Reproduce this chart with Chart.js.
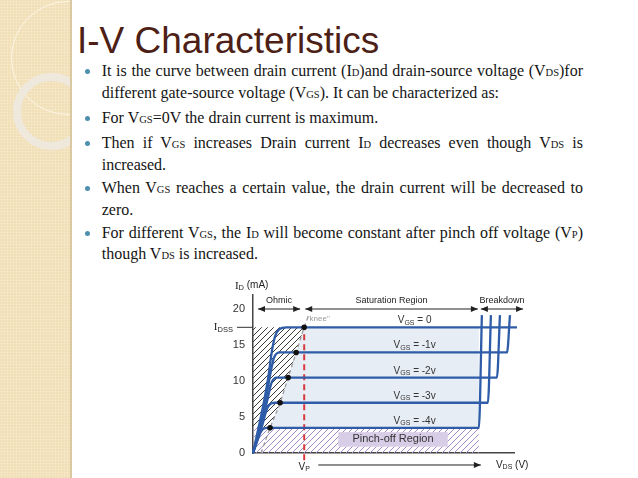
<!DOCTYPE html>
<html lang="en">
<head>
<meta charset="UTF-8">
<title>I-V Characteristics</title>
<script src="https://cdn.jsdelivr.net/npm/chart.js"></script>
<style>
  body { margin: 0; width: 638px; height: 478px; background: #fff; position: relative; overflow: hidden; font-family: "Liberation Serif", serif; }
  .band { position: absolute; left: 0; top: 0; width: 70px; height: 478px; background-color: #f1dfb7;
          background-image: radial-gradient(rgba(255,255,255,0.35) 0.8px, transparent 1.1px); background-size: 3px 3px;
          overflow: hidden; border-right: 2px solid #d9c8a2; }
  .ring1 { position: absolute; left: 11px; top: 1px; width: 114px; height: 114px; box-sizing: border-box; border: 1.5px solid #fcf6e8; border-radius: 50%; }
  .ring2 { position: absolute; left: 13px; top: 73px; width: 77px; height: 77px; box-sizing: border-box; border: 8px solid rgba(238,232,221,0.95); border-radius: 50%; }
  .title { position: absolute; left: 77px; top: 21.7px; font: 37px/37px "Liberation Sans", Arial, sans-serif; color: #4d1f16; white-space: nowrap; }
  ul { position: absolute; left: 101.7px; top: 61.3px; width: 481.3px; margin: 0; padding: 0; list-style: none; }
  li { position: relative; font-size: 16px; line-height: 19.5px; color: #151515; text-align: justify; }
  li + li { margin-top: 3.8px; }
  li::before { content: ''; position: absolute; left: -17px; top: 7.9px; width: 5px; height: 5px; border-radius: 50%; background: #4f8fae; }
  .s { font-size: 10.5px; }
  #chart { position: absolute; left: 205px; top: 270px; }
</style>
</head>
<body>
<div class="band"><div class="ring1"></div><div class="ring2"></div></div>
<div class="title">I-V Characteristics</div>
<ul>
  <li>It is the curve between drain current (I<span class="s">D</span>)and drain-source voltage (V<span class="s">DS</span>)for different gate-source voltage (V<span class="s">GS</span>). It can be characterized as:</li>
  <li>For V<span class="s">GS</span>=0V the drain current is maximum.</li>
  <li>Then if V<span class="s">GS</span> increases Drain current I<span class="s">D</span> decreases even though V<span class="s">DS</span> is increased.</li>
  <li>When V<span class="s">GS</span> reaches a certain value, the drain current will be decreased to zero.</li>
  <li>For different V<span class="s">GS</span>, the I<span class="s">D</span> will become constant after pinch off voltage (V<span class="s">P</span>) though V<span class="s">DS</span> is increased.</li>
</ul>
<canvas id="chart" width="340" height="208"></canvas>

<script>
// values (VDS in arbitrary units, ID in mA)
const yTicks = [0, 5, 10, 15, 20];
const gateLabels = ['0', '-1v', '-2v', '-3v', '-4v'];
const satCurrent = [17.5, 14, 10.5, 7, 3.5];
const kneeVds = [5.1, 4.3, 3.5, 2.7, 1.7];
const breakdownVds = [26.3, 25.3, 24.3, 23.4, 22.5];
const breakdownTopVds = [26.6, 25.6, 24.6, 23.7, 22.8];
const breakdownTopId = 19.2;
const pinchOffVds = 5.1;
const idss = 17.5;

// rising (ohmic) part of each curve
const ohmicVgs0 = [[0, 0], [0.55, 3.5], [1.1, 7.2], [1.55, 10.8], [1.86, 14], [2.19, 16.2], [2.6, 17.2], [3.35, 17.5]];
const ohmicVgs1 = [[0, 0], [0.65, 3.5], [1.25, 7.2], [1.7, 10.8], [2.1, 13.3], [2.7, 14]];
const ohmicVgs2 = [[0, 0], [0.75, 3.5], [1.4, 7.2], [1.85, 9.8], [2.36, 10.5]];
const ohmicVgs3 = [[0, 0], [0.85, 3.5], [1.4, 6.2], [1.8, 6.9], [2.2, 7]];
const ohmicVgs4 = [[0, 0], [0.6, 2.4], [0.9, 3.2], [1.3, 3.5]];
const kneeLocusStart = [0.8, 0];
const kneeLocusEnd = [5.5, 19];

const regionNames = ['Ohmic', 'Saturation Region', 'Breakdown'];
const regionFrom = [0.5, 5.2, 22.7];
const regionTo = [4.7, 22.4, 26.9];

const toXY = pts => pts.map(([x, y]) => ({ x, y }));

function hatch(color, size) {
    const c = document.createElement('canvas');
    c.width = size; c.height = size;
    const g = c.getContext('2d');
    g.strokeStyle = color;
    g.lineWidth = 1;
    g.beginPath();
    g.moveTo(-1, 1); g.lineTo(1, -1);
    g.moveTo(0, size); g.lineTo(size, 0);
    g.moveTo(size - 1, size + 1); g.lineTo(size + 1, size - 1);
    g.stroke();
    return g.createPattern(c, 'repeat');
}

const ohmicParts = [ohmicVgs0, ohmicVgs1, ohmicVgs2, ohmicVgs3, ohmicVgs4];
const curves = ohmicParts.map((part, i) =>
    toXY([...part, [breakdownVds[i], satCurrent[i]], [breakdownTopVds[i], breakdownTopId]]));

const kneePoints = kneeVds.map((v, i) => ({ x: v, y: satCurrent[i] })).sort((a, b) => a.x - b.x);
const lowSat = satCurrent[satCurrent.length - 1];
const satEnd = breakdownVds[breakdownVds.length - 1];

const blue = '#2e5ca8';
const region = { showLine: true, borderWidth: 0, pointRadius: 0, order: 3 };

const datasets = [
    // 0 pinch-off region
    { ...region, data: [{ x: 0, y: lowSat }, { x: satEnd, y: lowSat }], fill: 'origin', backgroundColor: hatch('#a58ccb', 6) },
    // 1 lower edge of ohmic hatch (knee locus)
    { ...region, data: [{ x: 0, y: lowSat }, ...kneePoints], fill: false, borderColor: 'transparent' },
    // 2 ohmic hatch
    { ...region, data: [{ x: 0, y: idss }, { x: kneeVds[0], y: idss }], fill: 1, backgroundColor: hatch('#3a3a3a', 6) },
    // 3 saturation region tint
    { ...region, data: [...kneePoints, { x: satEnd, y: idss }], fill: { value: lowSat }, backgroundColor: '#e7edf5' },
    // 4 knee locus
    { data: toXY([kneeLocusStart, ...kneePoints.map(p => [p.x, p.y]), kneeLocusEnd]), borderColor: '#9a9a9a', borderWidth: 1.3,
      borderDash: [4, 3], pointRadius: 0, cubicInterpolationMode: 'monotone', order: 2 },
    // 5 pinch-off voltage
    { data: [{ x: pinchOffVds, y: -1 }, { x: pinchOffVds, y: idss }], borderColor: '#d63a3f', borderWidth: 2,
      borderDash: [6, 4], pointRadius: 0, clip: false, order: 2 },
    // 6 IDSS tick
    { data: [{ x: -1.6, y: idss }, { x: 0, y: idss }], borderColor: '#333', borderWidth: 1, pointRadius: 0, clip: false, order: 2 },
    ...curves.map((c, i) => ({
        label: 'VGS = ' + gateLabels[i], data: c, borderColor: blue, borderWidth: 2.3, pointRadius: 0,
        cubicInterpolationMode: 'monotone', clip: false, order: 1
    })),
    { data: kneePoints, showLine: false, pointRadius: 2.8, pointBackgroundColor: '#111', pointBorderWidth: 0, order: 0 }
];

function richText(ctx, x, y, parts, align) {
    // parts: [text, size, subscript, family]
    const fontOf = p => p[1] + 'px ' + (p[3] || '"Liberation Sans", Arial, sans-serif');
    let w = 0;
    parts.forEach(p => { ctx.font = fontOf(p); w += ctx.measureText(p[0]).width; });
    let cx = align === 'center' ? x - w / 2 : align === 'right' ? x - w : x;
    ctx.textAlign = 'left';
    ctx.textBaseline = 'middle';
    parts.forEach(p => {
        ctx.font = fontOf(p);
        ctx.fillText(p[0], cx, y + (p[2] ? p[1] * 0.35 : 0));
        cx += ctx.measureText(p[0]).width;
    });
}

function arrow(ctx, x1, x2, y, headStart, headEnd) {
    ctx.beginPath();
    ctx.moveTo(x1, y); ctx.lineTo(x2, y);
    ctx.stroke();
    const head = (x, dir) => {
        ctx.beginPath();
        ctx.moveTo(x, y);
        ctx.lineTo(x - dir * 7, y - 3);
        ctx.lineTo(x - dir * 7, y + 3);
        ctx.closePath();
        ctx.fill();
    };
    if (headStart) head(x1, -1);
    if (headEnd) head(x2, 1);
}

const annotations = {
    id: 'annotations',
    afterDatasetsDraw(chart) {
        const { ctx } = chart;
        const px = v => chart.scales.x.getPixelForValue(v);
        const py = v => chart.scales.y.getPixelForValue(v);
        const serif = '"Liberation Serif", serif';
        ctx.save();
        ctx.fillStyle = '#222';
        ctx.strokeStyle = '#222';
        ctx.lineWidth = 1;

        // region arrows on top
        regionNames.forEach((name, i) => {
            arrow(ctx, px(regionFrom[i]), px(regionTo[i]), py(20.05), true, true);
            richText(ctx, px((regionFrom[i] + regionTo[i]) / 2), py(21.2), [[name, 9]], 'center');
        });

        // gate voltage labels
        ctx.fillStyle = '#333';
        gateLabels.forEach((g, i) => {
            richText(ctx, px(16.1), py(satCurrent[i] + 0.95), [['V', 10], ['GS', 7, true], [' = ' + g, 10]], 'center');
        });

        // pinch-off label box
        ctx.fillStyle = '#d8cde6';
        ctx.fillRect(px(8.5), py(2.9), px(19.4) - px(8.5), py(0.88) - py(2.9));
        ctx.fillStyle = '#333';
        richText(ctx, px(13.95), py(1.9), [['Pinch-off Region', 11]], 'center');

        // knee label
        ctx.fillStyle = '#999';
        richText(ctx, px(5.35), py(18.75), [['"knee"', 8]], 'left');

        // axis labels
        ctx.fillStyle = '#222';
        richText(ctx, px(-1.8), py(23.3), [['I', 11, false, serif], ['D', 7.5, true], [' (mA)', 10]], 'left');
        richText(ctx, px(-2.0), py(idss), [['I', 11, false, serif], ['DSS', 7.5, true]], 'right');
        richText(ctx, px(pinchOffVds), py(-1.95), [['V', 10], ['P', 7, true]], 'center');
        arrow(ctx, px(6.5), px(22.7), py(-1.67), false, true);
        richText(ctx, px(24.2), py(-1.67), [['V', 10], ['DS', 7, true], [' (V)', 10]], 'left');
        ctx.restore();
    }
};

new Chart(document.getElementById('chart'), {
    type: 'line',
    data: { datasets },
    options: {
        responsive: false,
        animation: false,
        layout: { padding: { left: 0, right: 31, top: 25, bottom: 25 } },
        plugins: { legend: { display: false }, tooltip: { enabled: false } },
        scales: {
            x: {
                type: 'linear', min: 0, max: 26,
                grid: { display: false, drawTicks: false },
                border: { display: true, color: '#444', width: 1.5 },
                ticks: { display: false },
                afterFit: s => { s.height = 0; }
            },
            y: {
                type: 'linear', min: 0, max: 22,
                grid: { display: false, drawTicks: false },
                border: { display: true, color: '#444', width: 1.5 },
                ticks: { color: '#333', padding: 8, font: { family: '"Liberation Sans", Arial, sans-serif', size: 11 } },
                afterBuildTicks: s => { s.ticks = yTicks.map(v => ({ value: v })); },
                afterFit: s => { s.width = 48; }
            }
        }
    },
    plugins: [annotations]
});
</script>
</body>
</html>
